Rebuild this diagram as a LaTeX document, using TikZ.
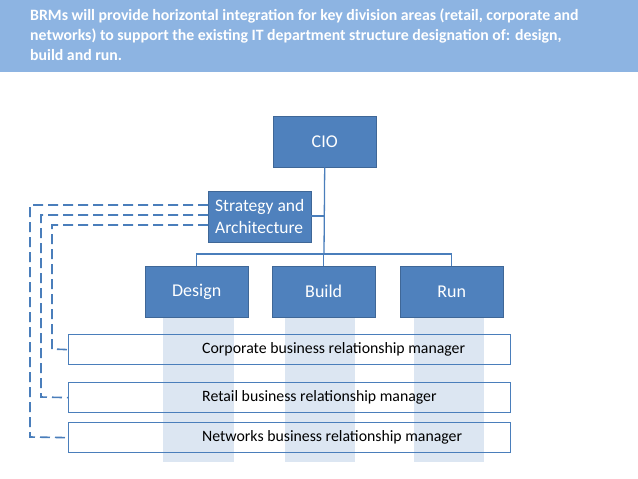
\documentclass[tikz,border=0pt]{standalone}
\usepackage{fontspec}
\setmainfont{Carlito}
\definecolor{hdr}{HTML}{8DB4E2}
\definecolor{boxblue}{HTML}{4F81BD}
\definecolor{lineblue}{HTML}{4A7EBB}
\definecolor{colblue}{HTML}{DCE6F2}
\begin{document}
\begin{tikzpicture}[x=1pt,y=-1pt,
  unit/.style={fill=boxblue,draw=boxblue!80!black,minimum width=103pt,minimum height=51pt,text=white,font=\fontsize{18}{21}\selectfont,anchor=north west,inner sep=0pt},
  brm/.style={draw=lineblue,line width=1.3pt,minimum width=442pt,minimum height=30pt,anchor=north west,inner sep=0pt},
  link/.style={lineblue,line width=1.3pt},
  dashlink/.style={lineblue,line width=1.6pt,dash pattern=on 10pt off 5pt}]
\useasboundingbox (0,0) rectangle (638,479);
\fill[hdr] (0,0) rectangle (638,72);
\node[anchor=north west,text=white,font=\bfseries\fontsize{15.8}{20}\selectfont,align=left,inner sep=0pt] (head) at (30,9)
  {BRMs will provide horizontal integration for key division areas (retail, corporate and\\networks) to support the existing IT department structure designation of: design,\\build and run.};
% columns behind
\fill[colblue] (163,317) rectangle (234,462);
\fill[colblue] (285,317) rectangle (355,462);
\fill[colblue] (414,317) rectangle (484,462);
% units
\node[unit,align=left,font=\fontsize{17.5}{22}\selectfont] (sa) at (208,191) {Strategy and\\Architecture};
\node[unit] (cio) at (273,116) {CIO};
\node[unit] (design) at (145,266) {Design};
\node[unit] (build) at (272,266) {Build};
\node[unit] (run) at (400,266) {Run};
\coordinate (bar) at (324,254);
\coordinate (sj) at (324,216);
\draw[link] (cio.south) -- (bar);
\draw[link] (sa.east |- sj) -- (sj);
\draw[link] (design.north) |- (bar) -| (run.north);
\draw[link] (build.north) -- (build.north |- bar);
% managers
\node[brm] (corp) at (68,334) {};
\node[brm] (retail) at (68,382) {};
\node[brm] (net) at (68,422) {};
\foreach \b/\t in {corp/Corporate,retail/Retail,net/Networks}
  \node[anchor=west,inner sep=0pt,font=\fontsize{15.8}{18}\selectfont] (\b t) at (202,0 |- \b.west) {\t\ business relationship manager};
% dashed links
\draw[dashlink] (sa.west |- 0,205) -| (30,437) -- (net.west);
\draw[dashlink] (sa.west |- 0,215) -| (41,397) -- (retail.west);
\draw[dashlink] (sa.west |- 0,225) -| (52,349) -- (corp.west);
\end{tikzpicture}
\end{document}
